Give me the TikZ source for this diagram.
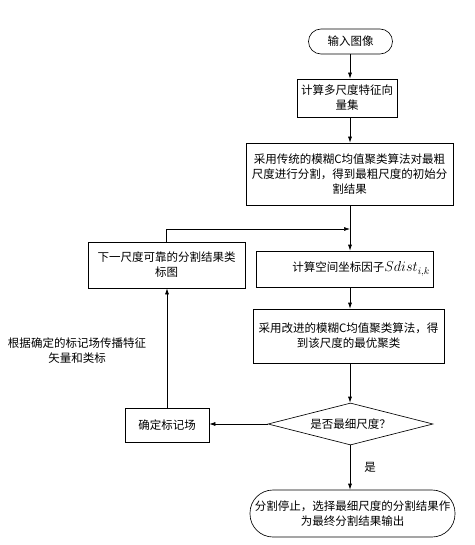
\documentclass[tikz,border=0pt]{standalone}
\usepackage{fontspec}
\newfontfamily\cjk{Noto Sans CJK SC}
\usetikzlibrary{shapes.geometric,arrows.meta}
\begin{document}
\begin{tikzpicture}[x=1pt,y=-1pt,
  box/.style={draw, line width=0.65pt, font=\cjk\fontsize{11.5}{15}\selectfont, align=center, inner sep=2pt},
  term/.style={box, rounded corners=#1},
  arr/.style={-{Latex[length=6pt,width=4pt]}, line width=0.65pt},
  lbl/.style={font=\cjk\fontsize{11.5}{15}\selectfont, align=center, inner sep=0pt}]
\path[use as bounding box, fill=white] (0,0) rectangle (474,545);
\coordinate (axis) at (350,0);
\node[term=12.5pt, minimum width=84pt, minimum height=25pt] (start) at (350.5,41.5) {输入图像};
\node[box, minimum width=100pt, minimum height=38pt] (b2) at (347,98) {计算多尺度特征向\\量集};
\node[box, minimum width=207pt, minimum height=62pt] (b3) at (349.5,174) {采用传统的模糊C均值聚类算法对最粗\\尺度进行分割，得到最粗尺度的初始分\\割结果};
\node[box, minimum width=177pt, minimum height=36pt, text width=171pt, align=right, inner sep=3pt] (b4) at (344.5,269) {计算空间坐标因子{\fontsize{14.5}{15}\selectfont$Sdist_{i,k}$}};
\node[box, minimum width=191pt, minimum height=54pt] (b5) at (348.5,336) {采用改进的模糊C均值聚类算法，得\\到该尺度的最优聚类};
\node[box, diamond, aspect=3.9, minimum width=165pt, minimum height=42pt, inner sep=0pt] (dia) at (350.5,424) {是否最细尺度？};
\node[term=23pt, minimum width=205pt, minimum height=47pt] (end) at (352.5,513.5) {分割停止，选择最细尺度的分割结果作\\为最终分割结果输出};
\node[box, minimum width=157pt, minimum height=46pt] (l1) at (166.5,265) {下一尺度可靠的分割结果类\\标图};
\node[box, minimum width=84pt, minimum height=34pt] (l2) at (167,425) {确定标记场};
\node[lbl] (note) at (77,351) {根据确定的标记场传播特征\\矢量和类标};
\node[lbl] (yes) at (370,467) {是};
\coordinate (fb) at (350,229);
\draw[arr] (start.south -| axis) -- (b2.north -| axis);
\draw[arr] (b2.south -| axis) -- (b3.north -| axis);
\draw[arr] (b3.south -| axis) -- (b4.north -| axis);
\draw[arr] (b4.south -| axis) -- (b5.north -| axis);
\draw[arr] (b5.south -| axis) -- (dia.north -| axis);
\draw[arr] (dia.south -| axis) -- (end.north -| axis);
\draw[arr] (l1.north) |- (fb);
\draw[arr] (dia.west) -- (dia.west -| l2.east);
\draw[arr] (l2.north) -- (l2.north |- l1.south);
\end{tikzpicture}
\end{document}
